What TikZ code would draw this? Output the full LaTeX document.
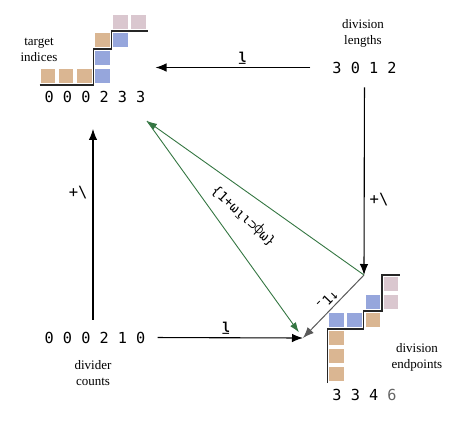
\documentclass[tikz,border=0pt]{standalone}
\usepackage{fontspec}
\setmainfont{Liberation Serif}
\newfontfamily\aplfont{DejaVu Sans Mono}
\usepackage{tikz}
\usetikzlibrary{calc,arrows.meta}
\definecolor{celltan}{RGB}{218,182,146}
\definecolor{cellblue}{RGB}{150,166,220}
\definecolor{cellmauve}{RGB}{218,199,207}
\definecolor{fngreen}{RGB}{52,118,66}
\def\cell[#1](#2,#3){\fill[#1] ({#2-7.3},{#3-7.3}) rectangle ({#2+7.3},{#3+7.3});}
\tikzset{
	num/.style={font=\aplfont\fontsize{15.2}{18}\selectfont, inner sep=3pt},
	caption/.style={font=\fontsize{13}{16}\selectfont, align=center, inner sep=0pt},
	fn/.style={font=\aplfont\fontsize{15.5}{18}\selectfont, inner sep=0pt},
	where/.style={font=\aplfont\fontsize{19}{20}\selectfont, inner sep=0pt},
	arr/.style={line width=1.1pt, -{Latex[length=11pt,width=8.5pt]}},
	garr/.style={line width=0.9pt, color=fngreen, -{Latex[length=10pt,width=7pt]}},
	stair/.style={line width=1.1pt, color=black!85},
}

\begin{document}
\begin{tikzpicture}[x=1pt,y=-1pt]
		%%%%% START %%%%%
		\useasboundingbox (0,0) rectangle (474,423);
		
		% target indices
		\cell[celltan](48,76) \cell[celltan](66.15,76) \cell[celltan](84.3,76)
		\cell[cellblue](102.45,76) \cell[cellblue](102.45,58)
		\cell[celltan](102.45,40) \cell[cellblue](120.6,40)
		\cell[cellmauve](120.6,22) \cell[cellmauve](138.75,22)
		\draw[stair] (39.5,85) -- (93.4,85) -- (93.4,49) -- (111.5,49) -- (111.5,31) -- (147.7,31);
		\node[num] (tgt) at (95,97) {0 0 0 2 3 3};
		\node[caption] (tgtcap) at (39,50) {target\\indices};
		
		% division lengths
		\node[num] (len) at (364.5,67.5) {3 0 1 2};
		\node[caption] (lencap) at (363,33) {division\\lengths};
		
		% divider counts
		\node[num] (cnt) at (95,337.5) {0 0 0 2 1 0};
		\node[caption] (cntcap) at (93,373) {divider\\counts};
		
		% division endpoints
		\cell[cellmauve](391,284) \cell[cellmauve](391,302)
		\cell[cellblue](372.9,302) \cell[celltan](372.9,320)
		\cell[cellblue](336.5,320) \cell[cellblue](354.7,320)
		\cell[celltan](336.5,338) \cell[celltan](336.5,356) \cell[celltan](336.5,374)
		\draw[stair] (327.4,383) -- (327.4,329) -- (363.8,329) -- (363.8,311) -- (382,311) -- (382,275) -- (400,275);
		\node[num] (ends) at (364.5,395) {3 3 4 \textcolor{black!60}{6}};
		\node[caption] (endcap) at (417,357) {division\\endpoints};
		
		\coordinate (knee) at (364,275);
		\coordinate (hit) at (303,338);
		\coordinate (gtip) at (147,121);
		
		% arrows
		\draw[arr, shorten <=19pt] (len.west) -- ([xshift=7pt]len.west -| tgt.east) node[midway, above=3pt, where] (lenlbl) {⍸};
		\draw[arr, shorten <=11pt] (len.south) -- (knee) node[pos=0.62, right=5pt, fn] (lenscan) {+\textbackslash};
		\draw[arr, shorten <=9pt, shorten >=23pt] ([xshift=-2pt]cnt.north) -- ([xshift=-2pt]tgt.south) node[pos=0.61, left=5pt, fn] (cntscan) {+\textbackslash};
		\draw[arr, shorten <=9pt] (cnt.east) -- (hit) node[midway, above=3pt, where] (cntlbl) {⍸};
		\draw[arr, color=black!65, line width=1pt] (knee) -- (hit) node[midway, above=3pt, sloped, fn, text=black, font=\aplfont\fontsize{13.5}{15}\selectfont] (droplbl) {¯1↓};
		
		\draw[garr] (knee) -- (gtip);
		\draw[garr, shorten >=7pt] (gtip) -- (hit);
		\node[fn, rotate=-43, font=\aplfont\fontsize{13.5}{15}\selectfont] (fnlbl) at (244,216) {\{1+⍵⍸⍳⊃⌽⍵\}};
		
		%%%%% END %%%%%
	\end{tikzpicture}
\end{document}
